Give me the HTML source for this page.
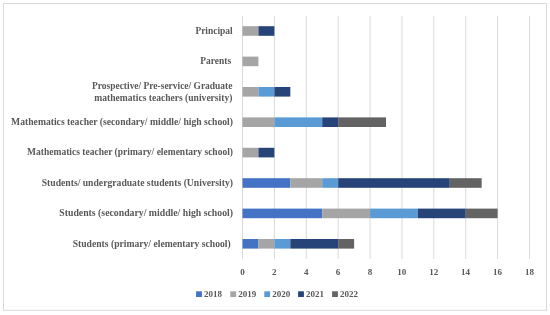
<!DOCTYPE html>
<html lang="en"><head><meta charset="utf-8"><title>Chart</title>
<style>
html,body{margin:0;padding:0;background:#fff;}
body{width:550px;height:315px;overflow:hidden;}
svg{display:block;}
text{font-family:"Liberation Serif","DejaVu Serif",serif;font-weight:bold;fill:#595959;}
</style></head><body>
<svg width="550" height="315" viewBox="0 0 550 315">
<rect x="0" y="0" width="550" height="315" fill="#fff"/>
<rect x="3.5" y="3.5" width="543" height="306.8" fill="#fff" stroke="#D9D9D9" stroke-width="1"/>

<line x1="242.50" y1="15.80" x2="242.50" y2="259.00" stroke="#D9D9D9" stroke-width="1"/>
<line x1="274.39" y1="15.80" x2="274.39" y2="259.00" stroke="#D9D9D9" stroke-width="1"/>
<line x1="306.28" y1="15.80" x2="306.28" y2="259.00" stroke="#D9D9D9" stroke-width="1"/>
<line x1="338.17" y1="15.80" x2="338.17" y2="259.00" stroke="#D9D9D9" stroke-width="1"/>
<line x1="370.06" y1="15.80" x2="370.06" y2="259.00" stroke="#D9D9D9" stroke-width="1"/>
<line x1="401.94" y1="15.80" x2="401.94" y2="259.00" stroke="#D9D9D9" stroke-width="1"/>
<line x1="433.83" y1="15.80" x2="433.83" y2="259.00" stroke="#D9D9D9" stroke-width="1"/>
<line x1="465.72" y1="15.80" x2="465.72" y2="259.00" stroke="#D9D9D9" stroke-width="1"/>
<line x1="497.61" y1="15.80" x2="497.61" y2="259.00" stroke="#D9D9D9" stroke-width="1"/>
<line x1="529.50" y1="15.80" x2="529.50" y2="259.00" stroke="#D9D9D9" stroke-width="1"/>
<rect x="242.50" y="26.20" width="15.94" height="9.60" fill="#A5A5A5"/>
<rect x="258.44" y="26.20" width="15.94" height="9.60" fill="#264478"/>
<text x="195.40" y="33.80" font-size="10" textLength="37.30" lengthAdjust="spacingAndGlyphs">Principal</text>
<rect x="242.50" y="56.60" width="15.94" height="9.60" fill="#A5A5A5"/>
<text x="200.30" y="64.20" font-size="10" textLength="30.80" lengthAdjust="spacingAndGlyphs">Parents</text>
<rect x="242.50" y="87.00" width="15.94" height="9.60" fill="#A5A5A5"/>
<rect x="258.44" y="87.00" width="15.94" height="9.60" fill="#5B9BD5"/>
<rect x="274.39" y="87.00" width="15.94" height="9.60" fill="#264478"/>
<text x="92.00" y="88.80" font-size="10" textLength="140.40" lengthAdjust="spacingAndGlyphs">Prospective/ Pre-service/ Graduate</text>
<text x="94.30" y="100.50" font-size="10" textLength="138.10" lengthAdjust="spacingAndGlyphs">mathematics teachers (university)</text>
<rect x="242.50" y="117.40" width="31.89" height="9.60" fill="#A5A5A5"/>
<rect x="274.39" y="117.40" width="47.83" height="9.60" fill="#5B9BD5"/>
<rect x="322.22" y="117.40" width="15.94" height="9.60" fill="#264478"/>
<rect x="338.17" y="117.40" width="47.83" height="9.60" fill="#636363"/>
<text x="11.10" y="125.00" font-size="10" textLength="221.90" lengthAdjust="spacingAndGlyphs">Mathematics teacher (secondary/ middle/ high school)</text>
<rect x="242.50" y="147.80" width="15.94" height="9.60" fill="#A5A5A5"/>
<rect x="258.44" y="147.80" width="15.94" height="9.60" fill="#264478"/>
<text x="27.10" y="155.40" font-size="10" textLength="205.90" lengthAdjust="spacingAndGlyphs">Mathematics teacher (primary/ elementary school)</text>
<rect x="242.50" y="178.20" width="47.83" height="9.60" fill="#4472C4"/>
<rect x="290.33" y="178.20" width="31.89" height="9.60" fill="#A5A5A5"/>
<rect x="322.22" y="178.20" width="15.94" height="9.60" fill="#5B9BD5"/>
<rect x="338.17" y="178.20" width="111.61" height="9.60" fill="#264478"/>
<rect x="449.78" y="178.20" width="31.89" height="9.60" fill="#636363"/>
<text x="41.70" y="185.80" font-size="10" textLength="191.30" lengthAdjust="spacingAndGlyphs">Students/ undergraduate students (University)</text>
<rect x="242.50" y="208.60" width="79.72" height="9.60" fill="#4472C4"/>
<rect x="322.22" y="208.60" width="47.83" height="9.60" fill="#A5A5A5"/>
<rect x="370.06" y="208.60" width="47.83" height="9.60" fill="#5B9BD5"/>
<rect x="417.89" y="208.60" width="47.83" height="9.60" fill="#264478"/>
<rect x="465.72" y="208.60" width="31.89" height="9.60" fill="#636363"/>
<text x="59.30" y="216.20" font-size="10" textLength="173.70" lengthAdjust="spacingAndGlyphs">Students (secondary/ middle/ high school)</text>
<rect x="242.50" y="239.00" width="15.94" height="9.60" fill="#4472C4"/>
<rect x="258.44" y="239.00" width="15.94" height="9.60" fill="#A5A5A5"/>
<rect x="274.39" y="239.00" width="15.94" height="9.60" fill="#5B9BD5"/>
<rect x="290.33" y="239.00" width="47.83" height="9.60" fill="#264478"/>
<rect x="338.17" y="239.00" width="15.94" height="9.60" fill="#636363"/>
<text x="72.70" y="246.60" font-size="10" textLength="158.00" lengthAdjust="spacingAndGlyphs">Students (primary/ elementary school)</text>
<text x="242.40" y="275.0" text-anchor="middle" font-size="9">0</text>
<text x="274.29" y="275.0" text-anchor="middle" font-size="9">2</text>
<text x="306.18" y="275.0" text-anchor="middle" font-size="9">4</text>
<text x="338.07" y="275.0" text-anchor="middle" font-size="9">6</text>
<text x="369.96" y="275.0" text-anchor="middle" font-size="9">8</text>
<text x="401.84" y="275.0" text-anchor="middle" font-size="9">10</text>
<text x="433.73" y="275.0" text-anchor="middle" font-size="9">12</text>
<text x="465.62" y="275.0" text-anchor="middle" font-size="9">14</text>
<text x="497.51" y="275.0" text-anchor="middle" font-size="9">16</text>
<text x="529.40" y="275.0" text-anchor="middle" font-size="9">18</text>
<rect x="196.10" y="291.3" width="5.8" height="5.7" fill="#4472C4"/>
<text x="204.10" y="297.2" font-size="9">2018</text>
<rect x="230.30" y="291.3" width="5.8" height="5.7" fill="#A5A5A5"/>
<text x="238.30" y="297.2" font-size="9">2019</text>
<rect x="264.30" y="291.3" width="5.8" height="5.7" fill="#5B9BD5"/>
<text x="272.30" y="297.2" font-size="9">2020</text>
<rect x="298.10" y="291.3" width="5.8" height="5.7" fill="#264478"/>
<text x="306.10" y="297.2" font-size="9">2021</text>
<rect x="332.10" y="291.3" width="5.8" height="5.7" fill="#636363"/>
<text x="340.10" y="297.2" font-size="9">2022</text>
</svg></body></html>
